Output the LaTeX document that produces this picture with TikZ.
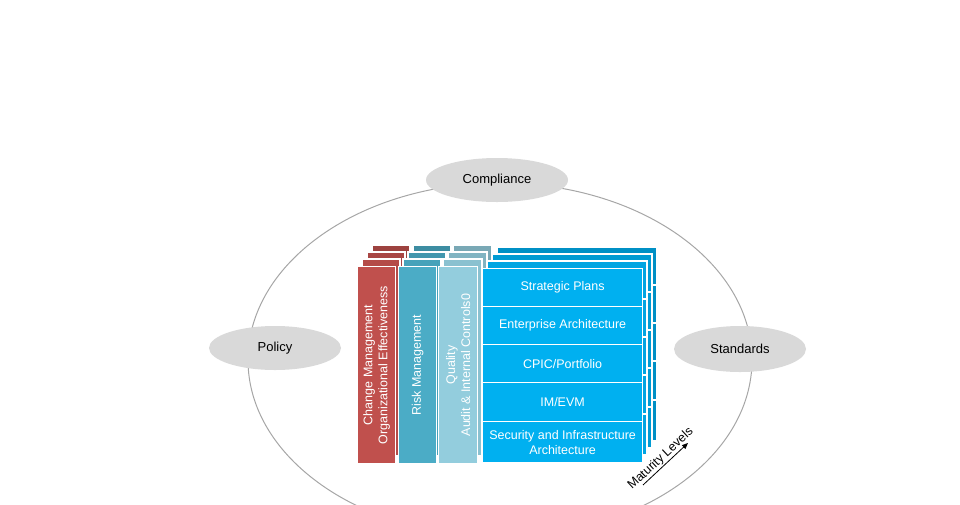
\documentclass[tikz,border=0pt]{standalone}
\usepackage{fontspec}
\setmainfont{Liberation Sans}
\usetikzlibrary{shapes.geometric,arrows.meta,calc}
\definecolor{cred}{HTML}{C0504D}
\definecolor{crisk}{HTML}{4BACC6}
\definecolor{cqual}{HTML}{93CDDD}
\definecolor{cblue}{HTML}{00B0F0}
\definecolor{cgray}{HTML}{D9D9D9}
\tikzset{
  oval/.style={ellipse,fill=cgray,draw=none,minimum width=142pt,minimum height=44pt,font=\fontsize{13}{15}\selectfont},
  blk/.style={draw=white,line width=1.2pt},
  lbl/.style={text=white,font=\fontsize{12.5}{15}\selectfont,align=center},
}
\begin{document}
\begin{tikzpicture}[x=1pt,y=-1pt]
\useasboundingbox (0,0) rectangle (960,504);
\draw[gray!70,line width=1pt] (500,360) ellipse [x radius=252,y radius=177];
\node[oval] (comp) at (497,180) {Compliance};
\node[oval,minimum width=132pt] (pol) at (275,348) {Policy};
\node[oval,minimum width=132pt,minimum height=46pt] (std) at (740,349) {Standards};
% back layers
\foreach \k/\s in {3/82,2/88,1/94}{
  \begin{scope}[shift={(\k*5,-\k*7)}]
    \fill[blk,fill=cred!\s!black] (357,266) rectangle (395,463);
    \fill[blk,fill=crisk!\s!black] (398,266) rectangle (436,463);
    \fill[blk,fill=cqual!\s!black] (438,266) rectangle (477,463);
    \foreach \a/\b in {268/306,306/344,344/382,382/421,421/462}
      \fill[blk,fill=cblue!\s!black] (482,\a) rectangle (642,\b);
  \end{scope}
}
% front
\node[blk,fill=cred,minimum width=38pt,minimum height=197pt,inner sep=0pt,anchor=north west] (cm) at (357,266) {};
\node[lbl,rotate=90] at (cm.center) {Change Management\\Organizational Effectiveness};
\node[blk,fill=crisk,minimum width=38pt,minimum height=197pt,inner sep=0pt,anchor=north west] (rm) at (398,266) {};
\node[lbl,rotate=90] at (rm.center) {Risk Management};
\node[blk,fill=cqual,minimum width=39pt,minimum height=197pt,inner sep=0pt,anchor=north west] (qa) at (438,266) {};
\node[lbl,rotate=90] at (qa.center) {Quality\\Audit \& Internal Controls0};
\foreach \n/\a/\h/\t in {sp/268/38/{Strategic Plans},ea/306/38/{Enterprise Architecture},cp/344/38/{CPIC/Portfolio},im/382/39/{IM/EVM},si/421/41/{Security and Infrastructure\\Architecture}}{
  \node[blk,fill=cblue,minimum width=160pt,minimum height=\h pt,inner sep=0pt,anchor=north west] (\n) at (482,\a) {};
  \node[lbl] at (\n.center) {\t};
}
\coordinate (ms) at (643,485);
\coordinate (me) at (688,443);
\draw[-{Triangle[length=6pt,width=5pt]},line width=0.8pt] (ms) -- (me);
\node[rotate=43,font=\fontsize{12.5}{15}\selectfont,anchor=south,inner sep=1pt] (ml) at ($(ms)!0.5!(me)$) {Maturity Levels};
\end{tikzpicture}
\end{document}
